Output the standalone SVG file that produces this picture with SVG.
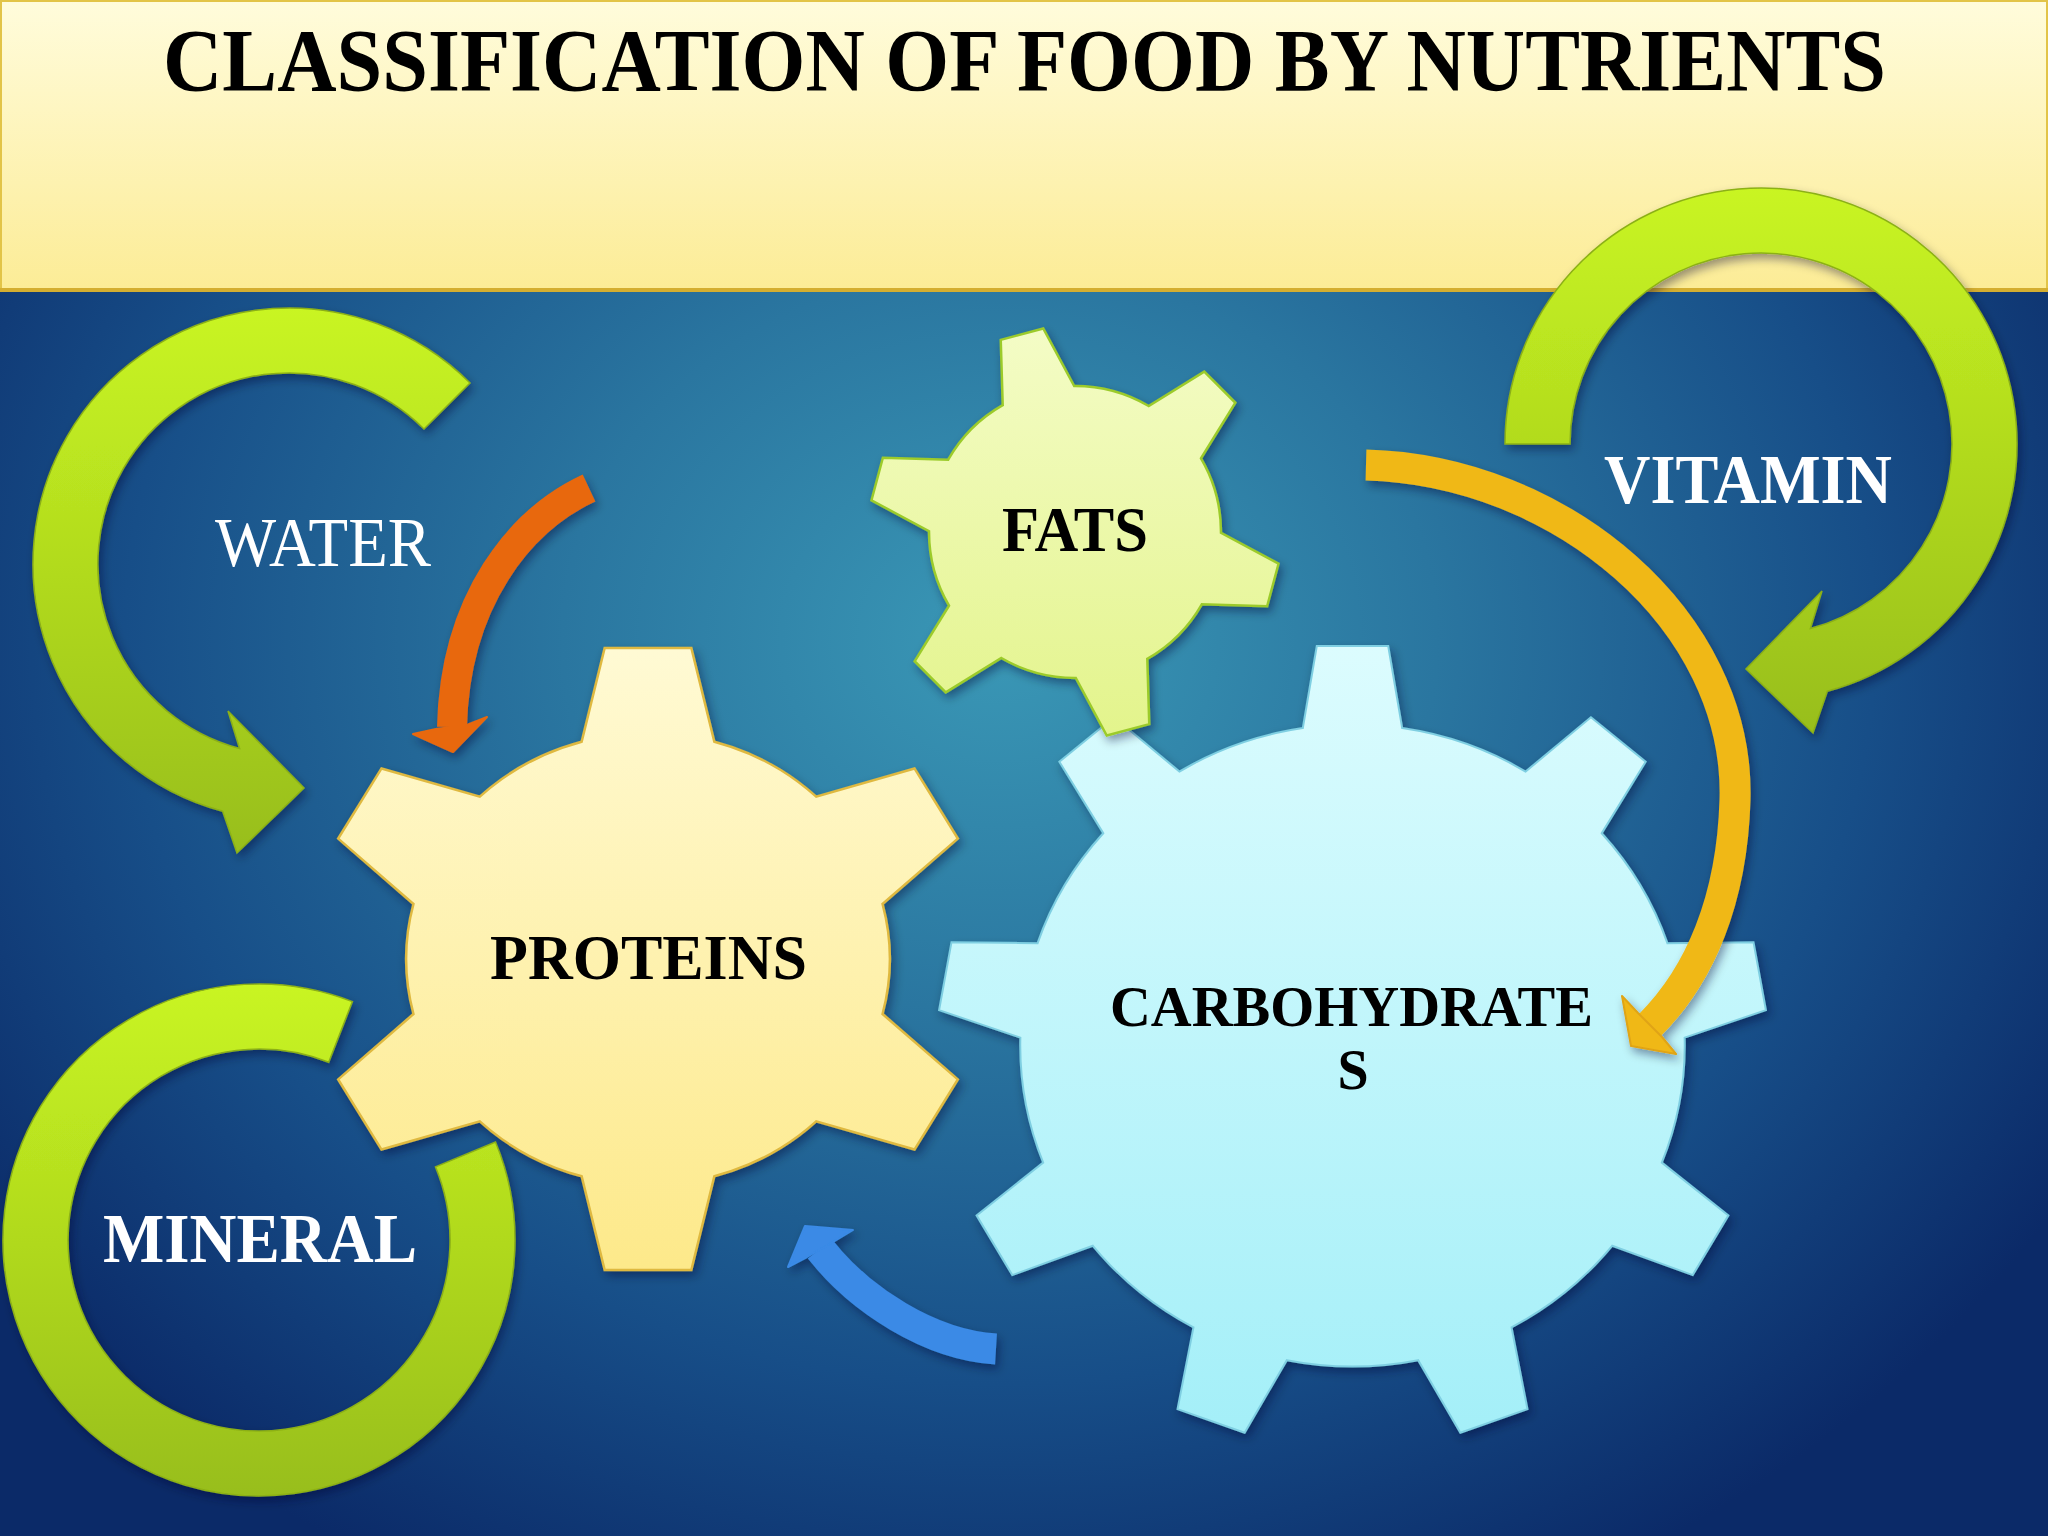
<svg xmlns="http://www.w3.org/2000/svg" width="2048" height="1536" viewBox="0 0 2048 1536">
<defs>
<radialGradient id="bg" gradientUnits="userSpaceOnUse" cx="1000" cy="640" r="1250" gradientTransform="translate(1000 640) scale(1 0.85) translate(-1000 -640)">
<stop offset="0" stop-color="#3a98b6"/>
<stop offset="0.35" stop-color="#2a76a0"/>
<stop offset="0.7" stop-color="#174e88"/>
<stop offset="1" stop-color="#0b2a68"/>
</radialGradient>
<linearGradient id="hdr" x1="0" y1="0" x2="0" y2="1">
<stop offset="0" stop-color="#fffcdc"/>
<stop offset="1" stop-color="#fcec96"/>
</linearGradient>
<linearGradient id="lime" x1="0" y1="0" x2="0" y2="1">
<stop offset="0" stop-color="#c9f522"/>
<stop offset="1" stop-color="#98be1a"/>
</linearGradient>
<linearGradient id="gProt" x1="0" y1="0" x2="0" y2="1">
<stop offset="0" stop-color="#fffad4"/>
<stop offset="1" stop-color="#fde98a"/>
</linearGradient>
<linearGradient id="gFats" x1="0" y1="0" x2="0" y2="1">
<stop offset="0" stop-color="#f4fcc6"/>
<stop offset="1" stop-color="#e3f48c"/>
</linearGradient>
<linearGradient id="gCarb" x1="0" y1="0" x2="0" y2="1">
<stop offset="0" stop-color="#dcfcfe"/>
<stop offset="1" stop-color="#a4eff8"/>
</linearGradient>
<filter id="sh" x="-20%" y="-20%" width="140%" height="140%">
<feDropShadow dx="3" dy="5" stdDeviation="5" flood-color="#001030" flood-opacity="0.4"/>
</filter>
</defs>
<style>
.lbl{font-family:"Liberation Serif","Times New Roman",serif;}
.w{fill:#ffffff;}
.k{fill:#000000;font-weight:bold;}
.arc{fill:url(#lime);stroke:#8cb018;stroke-width:1.5;filter:url(#sh);}
.gear{filter:url(#sh);}
</style>

<rect x="0" y="0" width="2048" height="1536" fill="url(#bg)"/>

<g id="header">
<rect x="0" y="0" width="2048" height="290" fill="url(#hdr)"/>
<rect x="1" y="1" width="2046" height="289" fill="none" stroke="#e2c448" stroke-width="2"/>
<line x1="0" y1="290" x2="2048" y2="290" stroke="#d4ae30" stroke-width="4"/>
<text class="lbl k" x="163" y="90" font-size="88" textLength="1723" lengthAdjust="spacingAndGlyphs">CLASSIFICATION OF FOOD BY NUTRIENTS</text>
</g>

<g id="carbohydrates">
<path class="gear" transform="translate(1352.5 1045.5) scale(1.035 1)" fill="url(#gCarb)" stroke="#7fcfe2" stroke-width="2" vector-effect="non-scaling-stroke" d="M -48,-317.4 L -34.5,-399.5 L 34.5,-399.5 L 48,-317.4 A 321 321 0 0 1 167.26,-273.98 L 230.37,-328.2 L 283.23,-283.84 L 240.8,-212.28 A 321 321 0 0 1 304.25,-102.37 L 387.44,-103.33 L 399.42,-35.37 L 320.91,-7.83 A 321 321 0 0 1 298.87,117.13 L 363.22,169.87 L 328.72,229.63 L 250.87,200.27 A 321 321 0 0 1 153.66,281.84 L 169.05,363.61 L 104.21,387.21 L 63.44,314.68 A 321 321 0 0 1 -63.44,314.68 L -104.21,387.21 L -169.05,363.61 L -153.66,281.84 A 321 321 0 0 1 -250.87,200.27 L -328.72,229.63 L -363.22,169.87 L -298.87,117.13 A 321 321 0 0 1 -320.91,-7.83 L -399.42,-35.37 L -387.44,-103.33 L -304.25,-102.37 A 321 321 0 0 1 -240.8,-212.28 L -283.23,-283.84 L -230.37,-328.2 L -167.26,-273.98 A 321 321 0 0 1 -48,-317.4 Z"/>
<text class="lbl k" x="1110" y="1026" font-size="56" textLength="483" lengthAdjust="spacingAndGlyphs">CARBOHYDRATE</text>
<text class="lbl k" x="1353" y="1089" font-size="56" text-anchor="middle">S</text>
</g>

<g id="fats">
<path class="gear" transform="translate(1075 532)" fill="url(#gFats)" stroke="#9ccb2c" stroke-width="2.5" d="M -72.28,-126.81 L -74.25,-192.13 L -31.75,-203.51 L -0.8,-145.97 A 146 146 0 0 1 73.68,-126 L 129.25,-160.37 L 160.37,-129.25 L 126,-73.68 A 146 146 0 0 1 145.97,0.8 L 203.51,31.75 L 192.13,74.25 L 126.81,72.28 A 146 146 0 0 1 72.28,126.81 L 74.25,192.13 L 31.75,203.51 L 0.8,145.97 A 146 146 0 0 1 -73.68,126 L -129.25,160.37 L -160.37,129.25 L -126,73.68 A 146 146 0 0 1 -145.97,-0.8 L -203.51,-31.75 L -192.13,-74.25 L -126.81,-72.28 A 146 146 0 0 1 -72.28,-126.81 Z"/>
<text class="lbl k" x="1002" y="551" font-size="63" textLength="146" lengthAdjust="spacingAndGlyphs">FATS</text>
</g>

<g id="proteins">
<path class="gear" transform="translate(648 959) scale(1.07 1)" fill="url(#gProt)" stroke="#dfb940" stroke-width="2.5" vector-effect="non-scaling-stroke" d="M -62,-217.3 L -40.5,-311 L 40.5,-311 L 62,-217.3 A 226 226 0 0 1 157.2,-162.35 L 249.05,-190.57 L 289.55,-120.43 L 219.2,-54.95 A 226 226 0 0 1 219.2,54.95 L 289.55,120.43 L 249.05,190.57 L 157.2,162.35 A 226 226 0 0 1 62,217.3 L 40.5,311 L -40.5,311 L -62,217.3 A 226 226 0 0 1 -157.2,162.35 L -249.05,190.57 L -289.55,120.43 L -219.2,54.95 A 226 226 0 0 1 -219.2,-54.95 L -289.55,-120.43 L -249.05,-190.57 L -157.2,-162.35 A 226 226 0 0 1 -62,-217.3 Z"/>
<text class="lbl k" x="490" y="979" font-size="64" textLength="317" lengthAdjust="spacingAndGlyphs">PROTEINS</text>
</g>

<g id="water">
<path class="arc" d="M 470,383 A 256 256 0 1 0 222.7,811.3 L 237,853 L 304,788 L 228,711 L 239.6,748.5 A 191 191 0 1 1 424,429 Z"/>
<text class="lbl w" x="215" y="566" font-size="70" textLength="216" lengthAdjust="spacingAndGlyphs">WATER</text>
</g>

<g id="vitamin">
<path class="arc" d="M 1505,444 A 256 256 0 1 1 1827.3,691.3 L 1813,733 L 1746,669 L 1822,591 L 1810.4,628.5 A 191 191 0 1 0 1570,444 Z"/>
<text class="lbl w" x="1604" y="503" font-size="70" font-weight="bold" textLength="288" lengthAdjust="spacingAndGlyphs">VITAMIN</text>
</g>

<g id="mineral">
<path class="arc" d="M 495.5,1142 A 256 256 0 1 1 352.4,1001.6 L 328.7,1062.2 A 191 191 0 1 0 435.5,1166.9 Z"/>
<text class="lbl w" x="103" y="1262" font-size="70" font-weight="bold" textLength="314" lengthAdjust="spacingAndGlyphs">MINERAL</text>
</g>

<g id="connectors" filter="url(#sh)">
<g id="orange-arrow">
<path d="M 589,488 C 520,520 455,600 452,727" fill="none" stroke="#e8680c" stroke-width="30"/>
<path d="M 436,729 L 413,734 L 453,752 L 487,717 L 467,725 Z" fill="#e8680c" stroke="#e8680c" stroke-width="2" stroke-linejoin="round"/>
</g>
<g id="yellow-arrow">
<path d="M 1366,465 C 1560,470 1740,620 1735,800 C 1732,900 1700,975 1650,1025" fill="none" stroke="#f0b818" stroke-width="31"/>
<path d="M 1638,1013 L 1622,996 L 1631,1046 L 1676,1054 L 1662,1037 Z" fill="#f0b818" stroke="#e0a412" stroke-width="2" stroke-linejoin="round"/>
</g>
<g id="blue-arrow">
<path d="M 996,1349 C 930,1345 860,1300 820,1249" fill="none" stroke="#3a8ae6" stroke-width="31"/>
<path d="M 833,1242 L 853,1230 L 805,1226 L 788,1267 L 807,1257 Z" fill="#3a8ae6" stroke="#3a8ae6" stroke-width="2" stroke-linejoin="round"/>
</g>
</g>
</svg>
